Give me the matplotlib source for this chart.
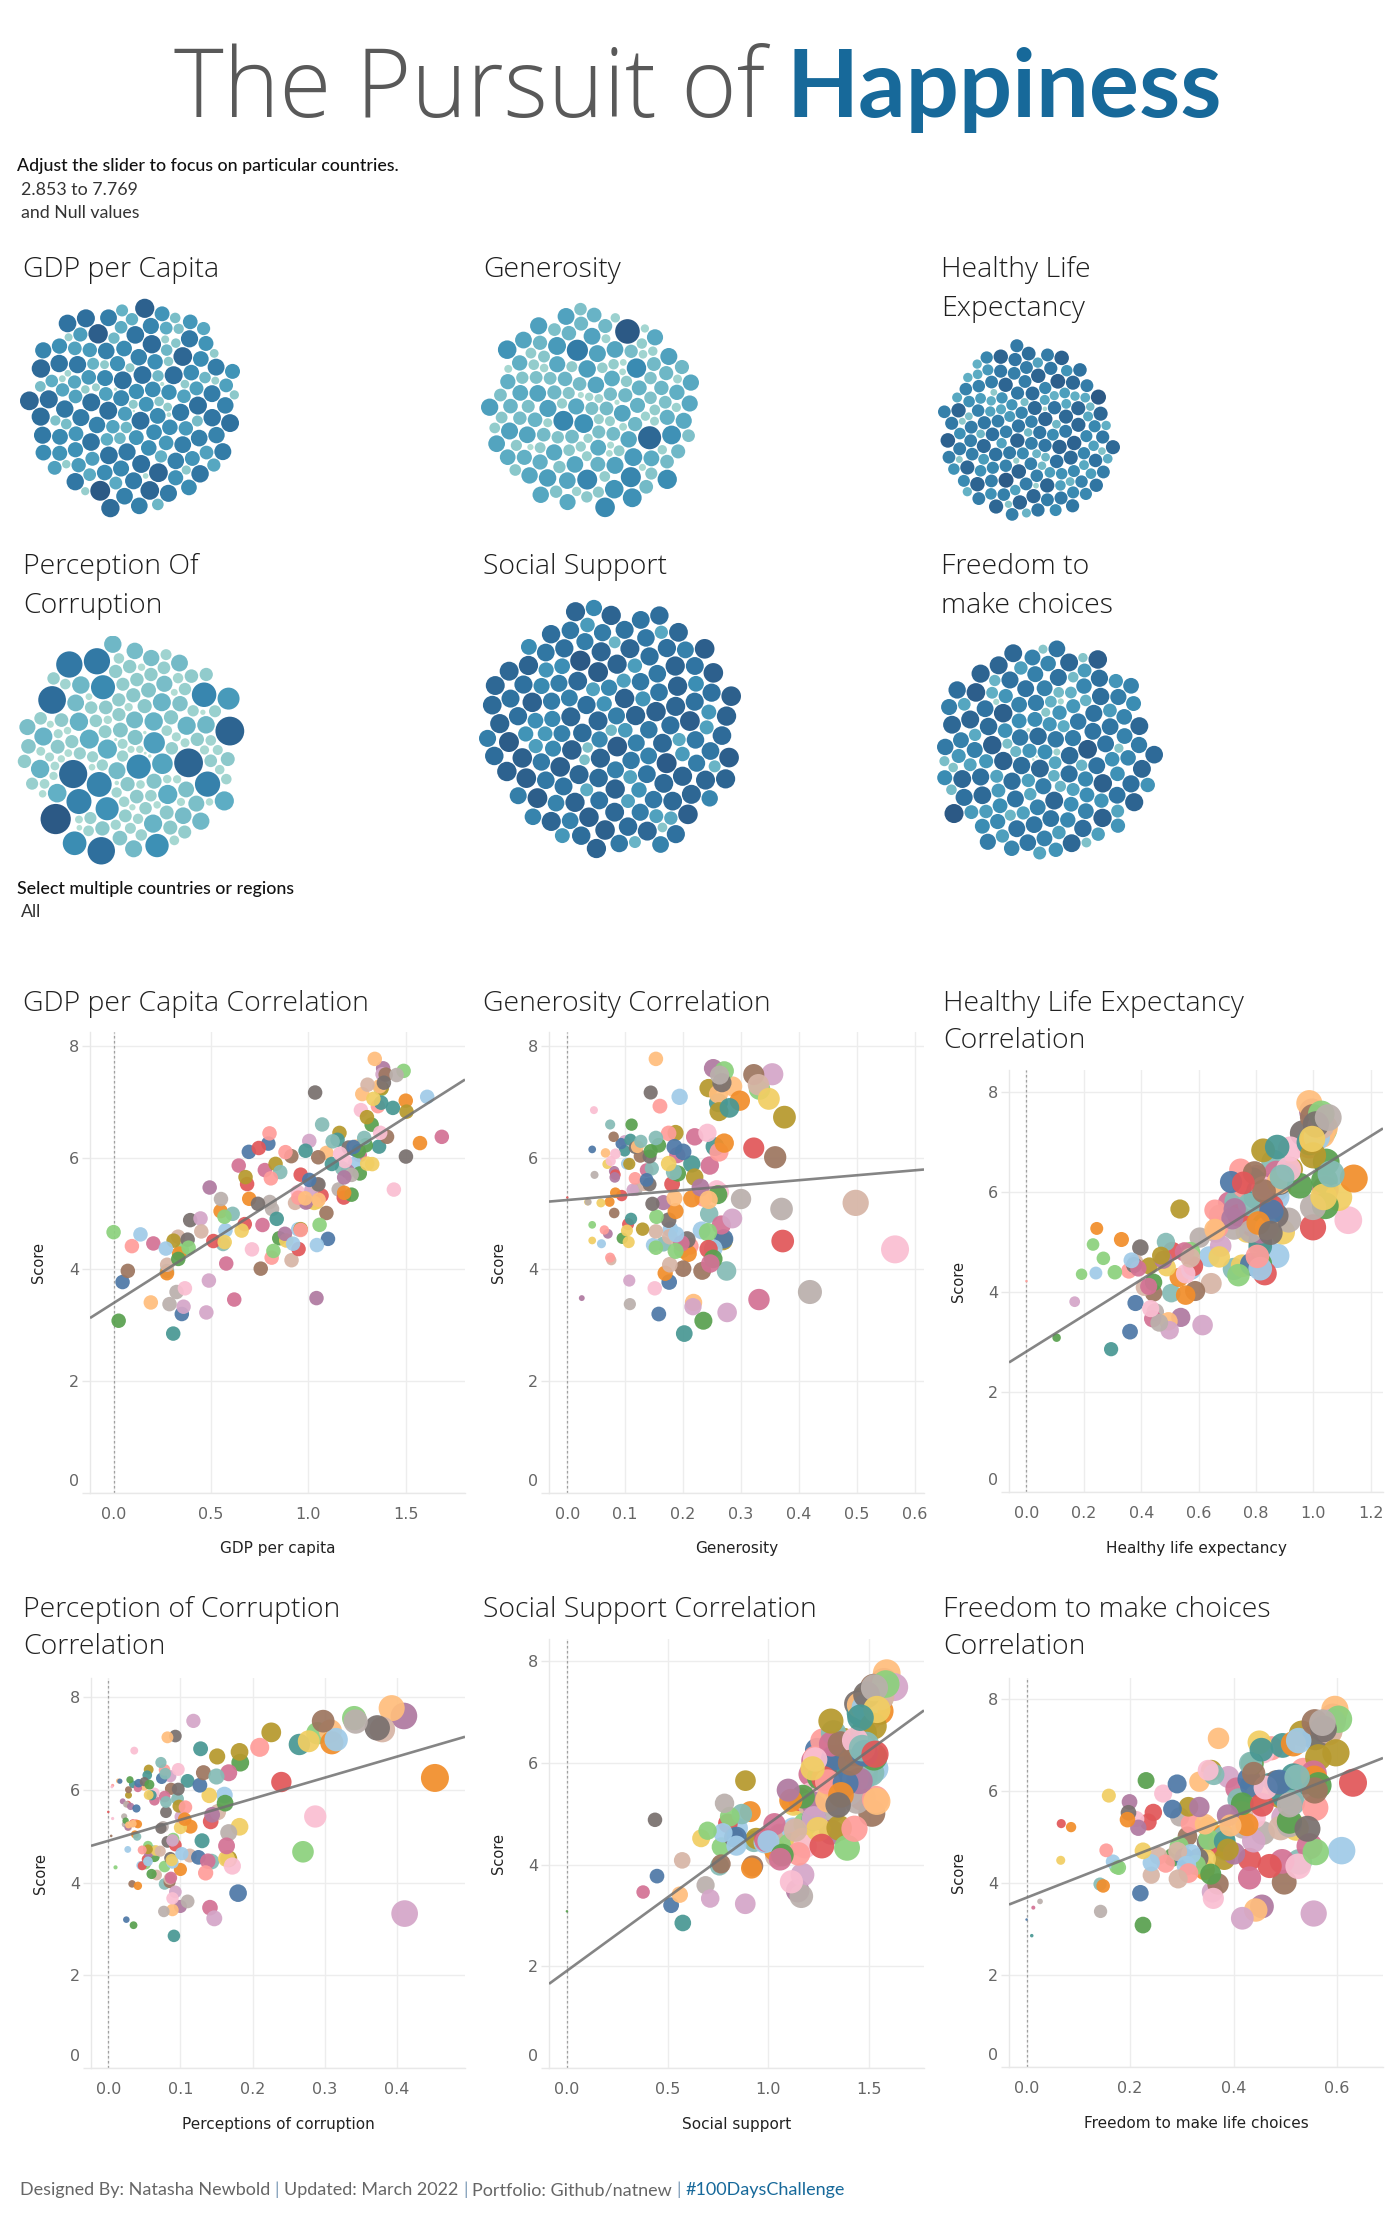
import numpy as np
import matplotlib
matplotlib.use("Agg")
import matplotlib.pyplot as plt
from matplotlib.patches import Circle
from matplotlib.colors import LinearSegmentedColormap, Normalize
from matplotlib.transforms import ScaledTranslation

# ---------------- data (World Happiness Report 2019) ----------------
countries = ["Finland","Denmark","Norway","Iceland","Netherlands","Switzerland","Sweden","New Zealand","Canada","Austria",
"Australia","Costa Rica","Israel","Luxembourg","United Kingdom","Ireland","Germany","Belgium","United States","Czech Republic",
"United Arab Emirates","Malta","Mexico","France","Taiwan","Chile","Guatemala","Saudi Arabia","Qatar","Spain",
"Panama","Brazil","Uruguay","Singapore","El Salvador","Italy","Bahrain","Slovakia","Trinidad & Tobago","Poland",
"Uzbekistan","Lithuania","Colombia","Slovenia","Nicaragua","Kosovo","Argentina","Romania","Cyprus","Ecuador",
"Kuwait","Thailand","Latvia","South Korea","Estonia","Jamaica","Mauritius","Japan","Honduras","Kazakhstan",
"Bolivia","Hungary","Paraguay","Northern Cyprus","Peru","Portugal","Pakistan","Russia","Philippines","Serbia",
"Moldova","Libya","Montenegro","Tajikistan","Croatia","Hong Kong","Dominican Republic","Bosnia and Herzegovina","Turkey","Malaysia",
"Belarus","Greece","Mongolia","North Macedonia","Nigeria","Kyrgyzstan","Turkmenistan","Algeria","Morocco","Azerbaijan",
"Lebanon","Indonesia","China","Vietnam","Bhutan","Cameroon","Bulgaria","Ghana","Ivory Coast","Nepal",
"Jordan","Benin","Congo (Brazzaville)","Gabon","Laos","South Africa","Albania","Venezuela","Cambodia","Palestinian Territories",
"Senegal","Somalia","Namibia","Niger","Burkina Faso","Armenia","Iran","Guinea","Georgia","Gambia",
"Kenya","Mauritania","Mozambique","Tunisia","Bangladesh","Iraq","Congo (Kinshasa)","Mali","Sierra Leone","Sri Lanka",
"Myanmar","Chad","Ukraine","Ethiopia","Swaziland","Uganda","Egypt","Zambia","Togo","India",
"Liberia","Comoros","Madagascar","Lesotho","Burundi","Zimbabwe","Haiti","Botswana","Syria","Malawi",
"Yemen","Rwanda","Tanzania","Afghanistan","Central African Republic","South Sudan"]

score = [7.769,7.600,7.554,7.494,7.488,7.480,7.343,7.307,7.278,7.246,
7.228,7.167,7.139,7.090,7.054,7.021,6.985,6.923,6.892,6.852,
6.825,6.726,6.595,6.592,6.446,6.444,6.436,6.375,6.374,6.354,
6.321,6.300,6.293,6.262,6.253,6.223,6.199,6.198,6.192,6.182,
6.174,6.149,6.125,6.118,6.105,6.100,6.086,6.070,6.046,6.028,
6.021,6.008,5.940,5.895,5.893,5.890,5.888,5.886,5.860,5.809,
5.779,5.758,5.743,5.718,5.697,5.693,5.653,5.648,5.631,5.603,
5.529,5.525,5.523,5.467,5.432,5.430,5.425,5.386,5.373,5.339,
5.323,5.287,5.285,5.274,5.265,5.261,5.247,5.211,5.208,5.208,
5.197,5.192,5.191,5.175,5.082,5.044,5.011,4.996,4.944,4.913,
4.906,4.883,4.812,4.799,4.796,4.722,4.719,4.707,4.700,4.696,
4.681,4.668,4.639,4.628,4.587,4.559,4.548,4.534,4.519,4.516,
4.509,4.490,4.466,4.461,4.456,4.437,4.418,4.390,4.374,4.366,
4.360,4.350,4.332,4.286,4.212,4.189,4.166,4.107,4.085,4.015,
3.975,3.973,3.933,3.802,3.775,3.663,3.597,3.488,3.462,3.410,
3.380,3.334,3.231,3.203,3.083,2.853]

gdp = [1.340,1.383,1.488,1.380,1.396,1.452,1.387,1.303,1.365,1.376,
1.372,1.034,1.276,1.609,1.333,1.499,1.373,1.356,1.433,1.269,
1.503,1.300,1.070,1.324,1.368,1.159,0.800,1.403,1.684,1.286,
1.149,1.004,1.124,1.572,0.794,1.294,1.362,1.246,1.231,1.206,
0.745,1.238,0.985,1.258,0.694,0.882,1.092,1.162,1.263,0.912,
1.500,1.050,1.187,1.301,1.237,0.831,1.120,1.327,0.642,1.173,
0.776,1.201,0.855,1.263,0.960,1.221,0.677,1.183,0.807,1.004,
0.685,1.044,1.051,0.493,1.155,1.438,1.015,0.945,1.183,1.221,
1.067,1.181,0.948,0.983,0.696,0.551,1.052,1.002,0.801,1.043,
0.987,0.931,1.029,0.741,0.813,0.549,1.092,0.611,0.569,0.446,
0.837,0.393,0.673,1.057,0.764,0.960,0.947,0.960,0.574,0.657,
0.450,0.000,0.879,0.138,0.331,0.850,1.100,0.380,0.886,0.308,
0.512,0.570,0.204,0.921,0.562,1.043,0.094,0.385,0.268,0.949,
0.710,0.350,0.820,0.336,0.811,0.332,0.913,0.578,0.275,0.755,
0.073,0.274,0.274,0.489,0.046,0.366,0.323,1.041,0.619,0.191,
0.287,0.359,0.476,0.350,0.026,0.306]

social = [1.587,1.573,1.582,1.624,1.522,1.526,1.487,1.557,1.505,1.475,
1.548,1.441,1.455,1.479,1.538,1.553,1.454,1.504,1.457,1.487,
1.310,1.520,1.323,1.472,1.430,1.369,1.269,1.357,1.313,1.484,
1.442,1.439,1.465,1.463,1.242,1.488,1.368,1.504,1.477,1.438,
1.529,1.515,1.410,1.523,1.325,1.232,1.432,1.232,1.223,1.312,
1.319,1.409,1.465,1.219,1.528,1.478,1.402,1.419,1.236,1.508,
1.209,1.410,1.475,1.252,1.274,1.431,0.886,1.452,1.293,1.383,
1.328,1.303,1.361,1.098,1.266,1.277,1.401,1.212,1.360,1.171,
1.465,1.156,1.531,1.294,1.111,1.438,1.538,1.160,0.782,1.147,
1.224,1.203,1.125,1.346,1.321,0.910,1.513,0.868,0.808,1.226,
1.225,0.437,0.799,1.183,1.030,1.351,0.848,1.427,1.122,1.247,
1.134,0.698,1.313,0.774,1.056,1.055,0.842,0.829,0.666,0.939,
0.983,1.167,0.986,1.000,0.928,0.980,1.125,1.105,0.841,1.265,
1.181,0.766,1.390,1.033,1.149,1.069,1.039,1.058,0.572,0.765,
0.922,0.757,0.916,1.169,0.447,1.114,0.688,1.145,0.378,0.560,
1.163,0.711,0.885,0.517,0.000,0.575]

health = [0.986,0.996,1.028,1.026,0.999,1.052,1.009,1.026,1.039,1.016,
1.036,0.963,1.029,1.012,0.996,0.999,0.987,0.986,0.874,0.920,
0.825,0.999,0.861,1.045,0.914,0.920,0.746,0.795,0.871,1.062,
0.910,0.802,0.891,1.141,0.789,1.039,0.871,0.881,0.713,0.884,
0.756,0.818,0.841,0.953,0.835,0.758,0.881,0.825,1.042,0.868,
0.808,0.828,0.812,1.036,0.874,0.831,0.798,1.088,0.828,0.729,
0.706,0.828,0.777,1.042,0.854,0.999,0.535,0.726,0.657,0.854,
0.739,0.673,0.871,0.718,0.914,1.122,0.779,0.845,0.808,0.828,
0.789,0.999,0.667,0.838,0.245,0.723,0.657,0.785,0.782,0.769,
0.815,0.660,0.893,0.851,0.604,0.331,0.815,0.486,0.232,0.677,
0.815,0.397,0.508,0.571,0.551,0.469,0.874,0.805,0.637,0.672,
0.571,0.268,0.477,0.366,0.380,0.815,0.785,0.375,0.752,0.428,
0.581,0.489,0.390,0.815,0.723,0.574,0.357,0.308,0.242,0.831,
0.555,0.192,0.739,0.532,0.000,0.443,0.644,0.426,0.410,0.588,
0.443,0.505,0.555,0.168,0.380,0.433,0.449,0.538,0.440,0.495,
0.463,0.614,0.499,0.361,0.105,0.295]

freedom = [0.596,0.592,0.603,0.591,0.557,0.572,0.574,0.585,0.584,0.532,
0.557,0.558,0.371,0.526,0.450,0.516,0.495,0.473,0.454,0.457,
0.598,0.564,0.433,0.436,0.351,0.357,0.535,0.439,0.555,0.362,
0.516,0.390,0.523,0.556,0.430,0.231,0.536,0.334,0.489,0.483,
0.631,0.291,0.470,0.564,0.435,0.489,0.471,0.462,0.406,0.498,
0.493,0.557,0.264,0.159,0.495,0.490,0.498,0.445,0.507,0.410,
0.511,0.199,0.514,0.417,0.455,0.508,0.313,0.334,0.558,0.282,
0.245,0.416,0.197,0.389,0.296,0.440,0.497,0.212,0.195,0.508,
0.235,0.067,0.317,0.345,0.426,0.508,0.394,0.086,0.418,0.351,
0.216,0.491,0.521,0.543,0.457,0.381,0.311,0.381,0.352,0.439,
0.383,0.349,0.372,0.295,0.547,0.389,0.383,0.154,0.609,0.225,
0.292,0.559,0.401,0.318,0.255,0.283,0.305,0.332,0.346,0.382,
0.431,0.066,0.494,0.167,0.527,0.241,0.269,0.327,0.309,0.470,
0.525,0.174,0.178,0.344,0.313,0.356,0.241,0.431,0.293,0.498,
0.370,0.142,0.148,0.359,0.220,0.361,0.026,0.455,0.013,0.443,
0.143,0.555,0.417,0.000,0.225,0.010]

generosity = [0.153,0.252,0.271,0.354,0.322,0.263,0.267,0.330,0.285,0.244,
0.332,0.144,0.261,0.194,0.348,0.298,0.261,0.160,0.280,0.046,
0.262,0.375,0.074,0.111,0.242,0.187,0.175,0.080,0.220,0.153,
0.109,0.099,0.127,0.271,0.093,0.158,0.255,0.121,0.185,0.117,
0.322,0.043,0.099,0.144,0.200,0.262,0.066,0.083,0.190,0.126,
0.142,0.359,0.075,0.175,0.103,0.107,0.215,0.069,0.246,0.146,
0.137,0.081,0.184,0.191,0.083,0.047,0.220,0.082,0.117,0.137,
0.181,0.133,0.142,0.230,0.119,0.258,0.113,0.263,0.083,0.260,
0.094,0.000,0.235,0.185,0.215,0.300,0.244,0.073,0.036,0.035,
0.166,0.498,0.058,0.147,0.370,0.187,0.081,0.245,0.154,0.285,
0.110,0.175,0.105,0.043,0.266,0.130,0.178,0.064,0.232,0.103,
0.153,0.243,0.070,0.188,0.177,0.095,0.270,0.207,0.043,0.269,
0.372,0.106,0.197,0.059,0.166,0.148,0.212,0.153,0.252,0.244,
0.566,0.198,0.187,0.209,0.074,0.252,0.076,0.247,0.177,0.200,
0.233,0.275,0.169,0.107,0.176,0.151,0.419,0.025,0.331,0.218,
0.108,0.217,0.276,0.158,0.235,0.202]

corruption = [0.393,0.410,0.341,0.118,0.298,0.343,0.373,0.380,0.308,0.226,
0.290,0.093,0.082,0.316,0.278,0.310,0.265,0.210,0.128,0.036,
0.182,0.151,0.073,0.183,0.097,0.056,0.078,0.132,0.167,0.079,
0.054,0.086,0.150,0.453,0.074,0.030,0.110,0.014,0.016,0.050,
0.240,0.042,0.034,0.057,0.127,0.006,0.050,0.005,0.041,0.087,
0.097,0.028,0.064,0.056,0.161,0.028,0.060,0.140,0.078,0.096,
0.064,0.020,0.080,0.162,0.027,0.025,0.098,0.031,0.107,0.039,
0.000,0.152,0.080,0.144,0.022,0.287,0.101,0.006,0.106,0.024,
0.142,0.034,0.038,0.034,0.041,0.023,0.028,0.114,0.076,0.182,
0.027,0.028,0.100,0.073,0.167,0.037,0.004,0.040,0.090,0.089,
0.130,0.082,0.093,0.055,0.164,0.055,0.027,0.047,0.062,0.066,
0.072,0.270,0.056,0.102,0.113,0.064,0.125,0.086,0.164,0.167,
0.053,0.088,0.138,0.055,0.143,0.089,0.053,0.052,0.045,0.047,
0.172,0.078,0.010,0.100,0.135,0.060,0.067,0.087,0.085,0.085,
0.033,0.078,0.041,0.093,0.180,0.089,0.110,0.100,0.141,0.089,
0.077,0.411,0.147,0.025,0.035,0.091]

score_range_text = "2.853 to 7.769"

# ---------------- setup ----------------
W, H = 1400, 2240
fig = plt.figure(figsize=(14, 22.4), dpi=100)
fig.patch.set_facecolor("white")
renderer = fig.canvas.get_renderer()

names = np.array(countries)
score_a = np.array(score)
alpha_idx = np.argsort(names, kind="stable")

tab20 = ['#4E79A7','#A0CBE8','#F28E2B','#FFBE7D','#59A14F','#8CD17D','#B6992D','#F1CE63',
         '#499894','#86BCB6','#E15759','#FF9D9A','#79706E','#BAB0AC','#D37295','#FABFD2',
         '#B07AA1','#D4A6C8','#9D7660','#D7B5A6']
color_of = {n: tab20[i % 20] for i, n in enumerate(names[alpha_idx])}

bt_cmap = LinearSegmentedColormap.from_list(
    "blueteal", ["#bce4d8", "#8fcacb", "#5dadc4", "#3c8fb5", "#2f72a0", "#2c5985"])

LIGHT = "Lato"
WIDE = "Open Sans"


def add_ax(l, t, r, b):
    return fig.add_axes([l / W, 1 - b / H, (r - l) / W, (b - t) / H])


def ftext(x, y, s, **kw):
    kw.setdefault("va", "baseline")
    kw.setdefault("ha", "left")
    return fig.text(x / W, 1 - y / H, s, **kw)


def width_px(t):
    return t.get_window_extent(renderer).width


def space_px(**kw):
    a = fig.text(0, 0, "a a", **kw)
    b = fig.text(0, 0, "aa", **kw)
    w = width_px(a) - width_px(b)
    a.remove(); b.remove()
    return w


def runs(x, y, parts, gap):
    cur = x
    for s, kw in parts:
        t = ftext(cur, y, s, **kw)
        cur += width_px(t) + gap
    return cur


def fit_text(x, y, s, target_w, **kw):
    t = ftext(x, y, s, **kw)
    w = width_px(t)
    t.set_fontsize(kw["fontsize"] * target_w / w)
    return t


# ---------------- title ----------------
tkw1 = dict(fontsize=64, family=WIDE, fontweight="light", color="#595959")
tkw2 = dict(fontsize=69, family=LIGHT, fontweight="bold", color="#17699a")
t1 = fit_text(174, 117, "The Pursuit of", 591, **tkw1)
t2 = fit_text(787, 117, "Happiness", 436, **tkw2)

ui_kw = dict(family=LIGHT, fontsize=12.8)
ftext(17, 171, "Adjust the slider to focus on particular countries.", color="#111111",
      fontweight="medium", **ui_kw)
ftext(21, 195, score_range_text, color="#333333", fontweight="normal", **ui_kw)
ftext(21, 218, "and Null values", color="#333333", fontweight="normal", **ui_kw)
ftext(17, 894, "Select multiple countries or regions", color="#111111",
      fontweight="medium", **ui_kw)
ftext(21, 917, "All", color="#333333", fontweight="normal", **ui_kw)


# ---------------- packed bubbles ----------------
def pack(r, pad):
    n = len(r)
    P = np.zeros((n, 2))
    if n > 1:
        P[1] = (r[0] + r[1] + pad, 0.0)
    for i in range(2, n):
        Q = P[:i]
        A = r[:i] + r[i] + pad
        iu, ju = np.triu_indices(i, 1)
        dvec = Q[ju] - Q[iu]
        d = np.hypot(dvec[:, 0], dvec[:, 1])
        a = A[iu]
        b = A[ju]
        m = (d < a + b) & (d > np.abs(a - b)) & (d > 1e-12)
        iu, ju, d, a, b, dvec = iu[m], ju[m], d[m], a[m], b[m], dvec[m]
        xx = (d ** 2 + a ** 2 - b ** 2) / (2 * d)
        hh = np.sqrt(np.maximum(a ** 2 - xx ** 2, 0))
        e = dvec / d[:, None]
        perp = np.column_stack([-e[:, 1], e[:, 0]])
        base = Q[iu] + xx[:, None] * e
        C = np.vstack([base + hh[:, None] * perp, base - hh[:, None] * perp])
        dd = np.hypot(C[:, None, 0] - Q[None, :, 0], C[:, None, 1] - Q[None, :, 1])
        ok = np.all(dd >= A[None, :] - 1e-7, axis=1)
        C = C[ok]
        if len(C) == 0:
            ang = np.linspace(0, 2 * np.pi, 72, endpoint=False)
            C = (Q[:, None, :] + A[:, None, None] *
                 np.stack([np.cos(ang), np.sin(ang)], -1)[None]).reshape(-1, 2)
            dd = np.hypot(C[:, None, 0] - Q[None, :, 0], C[:, None, 1] - Q[None, :, 1])
            C = C[np.all(dd >= A[None, :] - 1e-7, axis=1)]
        k = np.argmin((C ** 2).sum(1))
        P[i] = C[k]
    return P


def bubble_panel(vals, cx, cy, S):
    v_all = np.array(vals)
    v = v_all[alpha_idx]
    v = v[v > 0]
    r = np.sqrt(v)
    P = pack(r, 0.10 * r.max())
    xmin, xmax = (P[:, 0] - r).min(), (P[:, 0] + r).max()
    ymin, ymax = (P[:, 1] - r).min(), (P[:, 1] + r).max()
    half = max(xmax - xmin, ymax - ymin) / 2
    mx, my = (xmin + xmax) / 2, (ymin + ymax) / 2
    ax = add_ax(cx - S / 2, cy - S / 2, cx + S / 2, cy + S / 2)
    ax.set_xlim(mx - half, mx + half)
    ax.set_ylim(my - half, my + half)
    norm = Normalize(v_all.min(), v_all.max())
    for (x, y), rr, vv in zip(P, r, v):
        ax.add_patch(Circle((x, y), rr, facecolor=bt_cmap(norm(vv)), edgecolor="none"))
    ax.set_axis_off()


# bubble-chart titles: light face, sized so "GDP per Capita" spans ~197 px
btitle_kw = dict(family=WIDE, fontweight="light", fontsize=19.5, color="#1e1e1e")
t_gdp = fit_text(23, 277, "GDP per Capita", 197, **btitle_kw)
btitle_kw["fontsize"] = t_gdp.get_fontsize()
ftext(483, 277, "Generosity", **btitle_kw)
ftext(941, 277, "Healthy Life", **btitle_kw)
ftext(941, 316, "Expectancy", **btitle_kw)
ftext(23, 574, "Perception Of", **btitle_kw)
ftext(23, 613, "Corruption", **btitle_kw)
ftext(483, 574, "Social Support", **btitle_kw)
ftext(941, 574, "Freedom to", **btitle_kw)
ftext(941, 613, "make choices", **btitle_kw)

bubble_panel(gdp, 130, 408, 220)
bubble_panel(generosity, 590, 410, 218)
bubble_panel(health, 1029, 430, 182)
bubble_panel(corruption, 131, 750, 229)
bubble_panel(social, 610, 729, 262)
bubble_panel(freedom, 1050, 750, 226)

# ---------------- scatter panels ----------------
stitle_kw = dict(family=WIDE, fontweight="light", fontsize=20.5, color="#222222")


def scatter_panel(xvals, box, xlim, ytop, xticks, xticklabels, xlabel, sized):
    l, t, r, b = box
    ax = add_ax(l, t, r, b)
    xv = np.array(xvals)
    xs = xv[alpha_idx]
    ys = score_a[alpha_idx]
    cols = [color_of[n] for n in names[alpha_idx]]
    if sized:
        w = 28.0 * np.sqrt(np.clip(xs, 0, None) / xv.max())
        w = np.maximum(w, 2.5)
    else:
        w = np.full(len(xs), 14.5)
    ax.scatter(xs, ys, s=(w * 0.72) ** 2, c=cols, marker="o", linewidths=0,
               alpha=0.93, zorder=3)
    m, c0 = np.polyfit(xv, score_a, 1)
    lx = np.array(xlim)
    ax.plot(lx, m * lx + c0, color="#707070", lw=1.9, alpha=0.85, zorder=4,
            solid_capstyle="butt")
    ax.set_xlim(*xlim)
    ax.set_ylim(0, ytop)
    for s in ["top", "right"]:
        ax.spines[s].set_visible(False)
    for s in ["left", "bottom"]:
        ax.spines[s].set_color("#e8e8e8")
        ax.spines[s].set_linewidth(1.0)
    ax.set_yticks([0, 2, 4, 6, 8])
    ax.set_yticklabels(["0", "2", "4", "6", "8"])
    ax.set_xticks(xticks)
    ax.set_xticklabels(xticklabels)
    ax.tick_params(axis="y", length=6, width=1, color="#e8e8e8", pad=2,
                   labelsize=11.5, labelcolor="#666666")
    ax.tick_params(axis="x", length=0, pad=10, labelsize=11.5, labelcolor="#666666")
    ax.grid(True, color="#ededed", lw=1.0, zorder=0)
    ax.set_axisbelow(True)
    ax.axvline(0, color="#a0a0a0", lw=0.9, ls=(0, (2, 2)), zorder=1)
    for lab in ax.get_yticklabels():
        if lab.get_text() == "0":
            lab.set_transform(lab.get_transform() +
                              ScaledTranslation(0, 13 / 100, fig.dpi_scale_trans))
    ftext((l + r) / 2, b + 56, xlabel, ha="center", va="center", fontsize=11,
          color="#222222")
    ftext(l - 51, (t + b) / 2, "Score", ha="center", va="center", rotation=90,
          fontsize=10.5, color="#222222")
    return ax


ftext(23, 1011, "GDP per Capita Correlation", **stitle_kw)
ftext(483, 1011, "Generosity Correlation", **stitle_kw)
ftext(943, 1011, "Healthy Life Expectancy", **stitle_kw)
ftext(943, 1048, "Correlation", **stitle_kw)
ftext(23, 1617, "Perception of Corruption", **stitle_kw)
ftext(23, 1654, "Correlation", **stitle_kw)
ftext(483, 1617, "Social Support Correlation", **stitle_kw)
ftext(943, 1617, "Freedom to make choices", **stitle_kw)
ftext(943, 1654, "Correlation", **stitle_kw)

scatter_panel(gdp, (90, 1032, 465, 1493), (-0.121, 1.803), 8.25,
              [0, 0.5, 1.0, 1.5], ["0.0", "0.5", "1.0", "1.5"], "GDP per capita", False)
scatter_panel(generosity, (549, 1032, 924, 1493), (-0.0316, 0.616), 8.25,
              [0, 0.1, 0.2, 0.3, 0.4, 0.5, 0.6],
              ["0.0", "0.1", "0.2", "0.3", "0.4", "0.5", "0.6"], "Generosity", True)
scatter_panel(health, (1009, 1070, 1383, 1492), (-0.061, 1.243), 8.43,
              [0, 0.2, 0.4, 0.6, 0.8, 1.0, 1.2],
              ["0.0", "0.2", "0.4", "0.6", "0.8", "1.0", "1.2"], "Healthy life expectancy", True)
scatter_panel(corruption, (91, 1678, 465, 2068), (-0.024, 0.4947), 8.42,
              [0, 0.1, 0.2, 0.3, 0.4], ["0.0", "0.1", "0.2", "0.3", "0.4"],
              "Perceptions of corruption", True)
scatter_panel(social, (549, 1639, 924, 2068), (-0.089, 1.772), 8.44,
              [0, 0.5, 1.0, 1.5], ["0.0", "0.5", "1.0", "1.5"], "Social support", True)
scatter_panel(freedom, (1009, 1678, 1383, 2067), (-0.034, 0.689), 8.45,
              [0, 0.2, 0.4, 0.6], ["0.0", "0.2", "0.4", "0.6"],
              "Freedom to make life choices", True)

# ---------------- footer ----------------
fkw = dict(family=LIGHT, fontweight="normal", fontsize=13)
g = space_px(**fkw)
runs(20, 2195, [
    ("Designed By: Natasha Newbold", dict(color="#666666", **fkw)),
    ("|", dict(color="#7d9cb8", **fkw)),
    ("Updated: March 2022", dict(color="#666666", **fkw)),
    ("|", dict(color="#7d9cb8", **fkw)),
    ("Portfolio: Github/natnew", dict(color="#666666", **fkw)),
    ("|", dict(color="#7d9cb8", **fkw)),
    ("#100DaysChallenge", dict(color="#17699a", **fkw)),
], g)

fig.savefig("out.png", dpi=100, facecolor="white")
